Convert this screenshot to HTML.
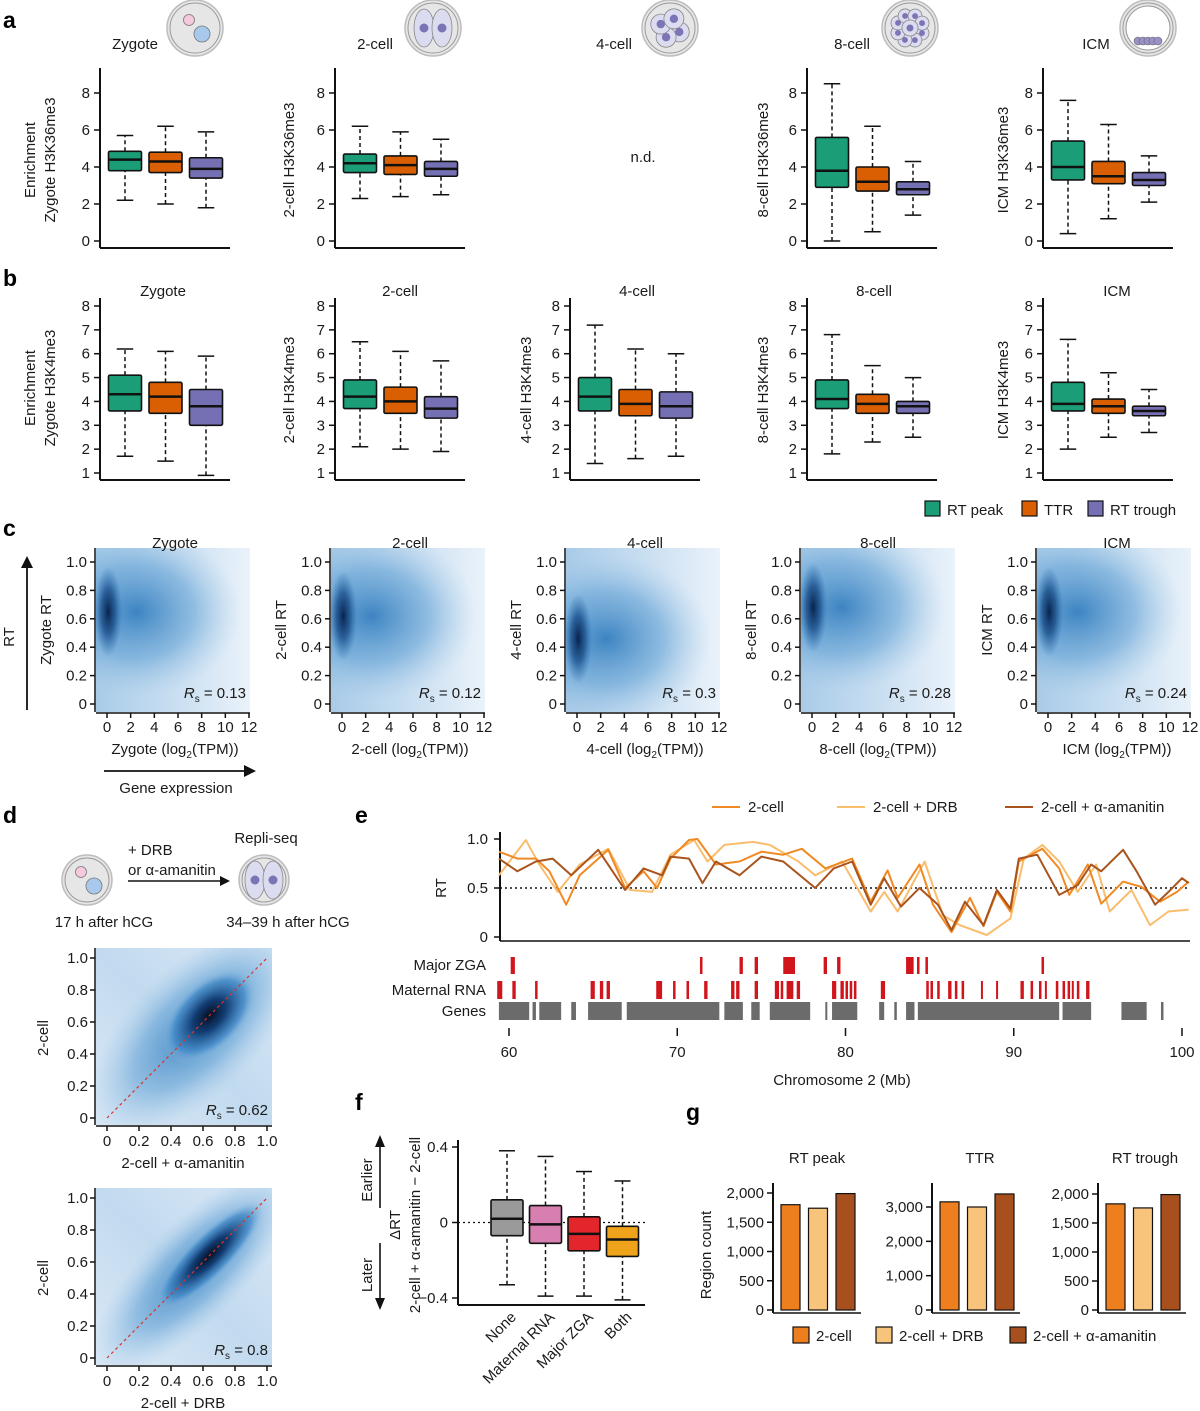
<!DOCTYPE html>
<html><head><meta charset="utf-8"><style>
html,body{margin:0;padding:0;background:#fff;}
svg{display:block;font-family:"Liberation Sans",sans-serif;}
</style></head><body>
<svg id="fig" width="1200" height="1411" viewBox="0 0 1200 1411" xmlns="http://www.w3.org/2000/svg">
<defs>
 <linearGradient id="wash" x1="0" x2="1" y1="0" y2="0"><stop offset="0" stop-color="#a9cbe8"/><stop offset="0.5" stop-color="#c8def1"/><stop offset="1" stop-color="#eaf2fa"/></linearGradient>
 <linearGradient id="washd" x1="0" x2="1" y1="1" y2="0"><stop offset="0" stop-color="#dbe9f6"/><stop offset="0.5" stop-color="#c2daef"/><stop offset="1" stop-color="#dbe9f6"/></linearGradient>
 <radialGradient id="mid"><stop offset="0" stop-color="#2f7bbd" stop-opacity="0.9"/><stop offset="0.55" stop-color="#5b9dd2" stop-opacity="0.55"/><stop offset="1" stop-color="#9cc5e6" stop-opacity="0"/></radialGradient>
 <radialGradient id="core"><stop offset="0" stop-color="#08234d"/><stop offset="0.5" stop-color="#1a4f8a" stop-opacity="0.8"/><stop offset="1" stop-color="#2d6fb0" stop-opacity="0"/></radialGradient>
 <radialGradient id="dcore"><stop offset="0" stop-color="#050f24"/><stop offset="0.35" stop-color="#123d73"/><stop offset="0.75" stop-color="#3d86c6" stop-opacity="0.7"/><stop offset="1" stop-color="#9cc5e6" stop-opacity="0"/></radialGradient>
</defs>
</svg>
<script>
// ---------- data ----------
const boxGroups = ["RT peak","TTR","RT trough"];
const boxColors = ["#1b9e77","#d95f02","#7570b3"];
const stages = ["Zygote","2-cell","4-cell","8-cell","ICM"];
// [lowWhisker, q1, median, q3, highWhisker]
const h3k36Zygote = [[2.2,3.8,4.4,4.85,5.7],[2.0,3.7,4.3,4.8,6.2],[1.8,3.4,3.9,4.5,5.9]];
const h3k36TwoCell = [[2.3,3.7,4.2,4.7,6.2],[2.4,3.6,4.1,4.6,5.9],[2.5,3.5,3.9,4.3,5.5]];
const h3k36EightCell = [[0,2.9,3.8,5.6,8.5],[0.5,2.7,3.2,4.0,6.2],[1.4,2.5,2.8,3.2,4.3]];
const h3k36ICM = [[0.4,3.3,4.0,5.4,7.6],[1.2,3.1,3.5,4.3,6.3],[2.1,3.0,3.3,3.7,4.6]];
const h3k4Zygote = [[1.7,3.6,4.3,5.1,6.2],[1.5,3.5,4.2,4.8,6.1],[0.9,3.0,3.8,4.5,5.9]];
const h3k4TwoCell = [[2.1,3.7,4.2,4.9,6.5],[2.0,3.5,4.0,4.6,6.1],[1.9,3.3,3.7,4.2,5.7]];
const h3k4FourCell = [[1.4,3.6,4.2,5.0,7.2],[1.6,3.4,3.9,4.5,6.2],[1.7,3.3,3.8,4.4,6.0]];
const h3k4EightCell = [[1.8,3.7,4.1,4.9,6.8],[2.3,3.5,3.9,4.3,5.5],[2.5,3.5,3.8,4.0,5.0]];
const h3k4ICM = [[2.0,3.6,3.9,4.8,6.6],[2.5,3.5,3.8,4.1,5.2],[2.7,3.4,3.6,3.8,4.5]];
const ticksA = [0,2,4,6,8];
const ticksB = [1,2,3,4,5,6,7,8];
const rsC = ["0.13","0.12","0.3","0.28","0.24"];
const densityPeakRT = [0.65,0.62,0.46,0.68,0.65];
const ticksCx = [0,2,4,6,8,10,12];
const ticksCy = [0,0.2,0.4,0.6,0.8,1.0];
const rsD = ["0.62","0.8"];
const ticksD = [0,0.2,0.4,0.6,0.8,1.0];
// panel e
const rtSeriesNames = ["2-cell","2-cell + DRB","2-cell + \u03b1-amanitin"];
const rtColors = ["#f08a24","#f9bd6e","#a9541d"];
const mb2cell = [59.4,60.5,61.6,62.4,63.4,64.2,65.9,66.9,68.0,68.8,69.6,70.7,71.2,72.3,73.7,75.0,76.3,77.4,78.8,80.4,81.5,82.5,83.1,84.4,85.2,86.3,87.4,88.2,89.0,89.8,90.3,91.7,92.7,93.3,94.4,95.2,96.5,97.6,98.7,99.7,100.4];
const rt2cell = [.87,.80,.80,.67,.33,.63,.89,.50,.67,.50,.80,.99,1.0,.74,.77,.87,.84,.90,.70,.80,.36,.68,.40,.74,.33,.05,.40,.11,.46,.26,.77,.90,.70,.43,.74,.34,.565,.51,.36,.46,.565];
const mbDRB = [59.4,61.0,61.8,62.9,64.2,65.9,67.2,68.5,69.6,71.0,71.8,72.8,74.5,75.5,77.2,78.2,79.8,81.5,82.3,83.1,84.7,85.8,86.8,88.4,89.8,90.6,91.7,92.7,93.8,94.9,95.7,97.0,98.1,99.2,100.4];
const rtDRB = [.63,.99,.74,.46,.74,.90,.48,.46,.84,.99,.77,.94,.97,.94,.77,.63,.77,.26,.46,.26,.77,.22,.12,.02,.19,.80,.94,.77,.46,.74,.26,.48,.12,.26,.28];
const mbAma = [59.4,60.5,61.6,62.6,63.7,65.3,66.9,68.0,69.1,69.6,70.7,71.5,72.3,73.7,75.0,76.3,78.2,79.3,80.4,81.5,82.3,83.3,84.4,85.5,86.3,87.1,88.2,89.0,89.8,90.3,91.4,92.7,93.8,94.6,95.2,96.5,97.3,98.4,99.2,100.0,100.4];
const rtAma = [.80,.67,.77,.80,.63,.89,.48,.70,.63,.82,.80,.55,.77,.63,.82,.77,.50,.70,.77,.33,.60,.31,.50,.33,.07,.36,.12,.48,.29,.80,.84,.43,.53,.74,.67,.89,.67,.33,.46,.60,.55];
const majorZGA = [[60.1,60.35],[71.35,71.5],[73.7,73.9],[74.6,74.8],[76.3,77.0],[78.7,78.9],[79.5,79.7],[83.6,84.05],[84.25,84.4],[84.75,84.9],[91.65,91.8]];
const maternalRNA = [[59.3,59.6],[60.2,60.4],[61.55,61.7],[64.85,65.1],[65.4,65.6],[65.8,66.0],[68.75,69.1],[69.75,69.9],[70.55,70.7],[71.6,71.8],[73.2,73.4],[73.5,73.7],[74.6,74.8],[75.8,76.05],[76.15,76.3],[76.5,76.9],[77.1,77.3],[79.2,79.45],[79.7,79.9],[80.0,80.15],[80.25,80.4],[80.5,80.65],[82.1,82.35],[84.8,84.95],[85.05,85.2],[85.45,85.6],[86.1,86.3],[86.5,86.65],[86.9,87.05],[88.05,88.15],[88.95,89.05],[90.4,90.6],[91.0,91.15],[91.5,91.65],[91.85,91.95],[92.5,92.65],[92.9,93.05],[93.2,93.35],[93.45,93.55],[93.75,93.9],[94.3,94.5]];
const genes = [[59.4,61.2],[61.4,61.6],[61.8,63.1],[63.7,63.98],[64.7,66.7],[67.0,72.5],[72.8,73.9],[74.4,74.9],[75.5,77.9],[78.8,78.9],[79.2,80.7],[82.0,82.3],[82.9,83.05],[83.6,84.1],[84.3,92.7],[92.9,94.6],[96.4,97.9],[98.75,98.9]];
const ticksEx = [60,70,80,90,100];
const ticksEy = [0,0.5,1.0];
// panel f
const fCats = ["None","Maternal RNA","Major ZGA","Both"];
const fColors = ["#9a9a9a","#d77fb0","#e3262b","#efa31b"];
const fStats = [[-0.33,-0.07,0.02,0.12,0.38],[-0.39,-0.11,-0.01,0.09,0.35],[-0.39,-0.15,-0.06,0.03,0.27],[-0.41,-0.18,-0.09,-0.02,0.22]];
const ticksF = [-0.4,0,0.4];
// panel g
const gPanels = ["RT peak","TTR","RT trough"];
const gColors = ["#ee7f1f","#f8c37a","#a8501d"];
const gPeak = [1800,1740,1990];
const gTTR = [3150,3000,3380];
const gTrough = [1830,1760,1990];
const ticksGpeak = [0,500,1000,1500,2000];
const ticksGttr = [0,1000,2000,3000];

// ---------- helpers ----------
const NS="http://www.w3.org/2000/svg";
const svg=document.getElementById('fig');
function mk(tag,attrs,name,parent){
  const el=document.createElementNS(NS,tag);
  for(const k in attrs) el.setAttribute(k,attrs[k]);
  
  
  (parent||svg).appendChild(el);
  return el;
}
function txt(x,y,s,name,opt){
  opt=opt||{};
  const t=mk('text',{x:x,y:y,'font-size':opt.size||15,'text-anchor':opt.anchor||'middle',fill:opt.fill||'#1a1a1a','font-weight':opt.weight||'normal'},name);
  if(opt.rot!==undefined) t.setAttribute('transform','rotate('+opt.rot+' '+x+' '+y+')');
  t.textContent=s;
  return t;
}
function line(x1,y1,x2,y2,name,opt){
  opt=opt||{};
  const l=mk('line',{x1:x1,y1:y1,x2:x2,y2:y2,stroke:opt.stroke||'#111','stroke-width':opt.w||2},name);
  if(opt.dash) l.setAttribute('stroke-dasharray',opt.dash);
  return l;
}
function lin(d0,d1,r0,r1){return v=>r0+(v-d0)*(r1-r0)/(d1-d0);}
function drawBox(cx,w,ys,s,color,name){
  line(cx,ys(s[0]),cx,ys(s[1]),name+'-whisker-low',{w:1.5,dash:'4,3'});
  line(cx,ys(s[3]),cx,ys(s[4]),name+'-whisker-high',{w:1.5,dash:'4,3'});
  line(cx-w/4,ys(s[0]),cx+w/4,ys(s[0]),name+'-cap-low',{w:1.5});
  line(cx-w/4,ys(s[4]),cx+w/4,ys(s[4]),name+'-cap-high',{w:1.5});
  mk('rect',{x:cx-w/2,y:ys(s[3]),width:w,height:ys(s[1])-ys(s[3]),fill:color,stroke:'#111','stroke-width':1.6,rx:1.5},name+'-box');
  line(cx-w/2,ys(s[2]),cx+w/2,ys(s[2]),name+'-median',{w:2.5});
}
function cell(cx,cy,r,type,name){
  mk('circle',{cx:cx,cy:cy,r:r,fill:'#e6e6e6',stroke:'#bdbdbd','stroke-width':1.5},name+'-zona');
  mk('circle',{cx:cx,cy:cy,r:r-3,fill:'none',stroke:'#9a9a9a','stroke-width':1},name+'-membrane');
  if(type==='zygote'){
    mk('circle',{cx:cx-6,cy:cy-8,r:5.5,fill:'#f6c9df',stroke:'#777','stroke-width':0.8},name+'-pronucleus-f');
    mk('circle',{cx:cx+7,cy:cy+6,r:8,fill:'#a8c9ec',stroke:'#777','stroke-width':0.8},name+'-pronucleus-m');
  } else if(type==='2'){
    mk('ellipse',{cx:cx-9,cy:cy,rx:10,ry:19,fill:'#dcdcf0',stroke:'#888','stroke-width':0.8},name+'-blast1');
    mk('ellipse',{cx:cx+9,cy:cy,rx:10,ry:19,fill:'#dcdcf0',stroke:'#888','stroke-width':0.8},name+'-blast2');
    mk('circle',{cx:cx-9,cy:cy,r:4.5,fill:'#7b74b6'},name+'-nuc1');
    mk('circle',{cx:cx+9,cy:cy,r:4.5,fill:'#7b74b6'},name+'-nuc2');
  } else if(type==='4'||type==='8'){
    const n=type==='4'?4:8, rr=type==='4'?10:7, d=type==='4'?10:13;
    for(let i=0;i<n;i++){
      const a=i*2*Math.PI/n+0.4;
      mk('circle',{cx:cx+d*Math.cos(a),cy:cy+d*Math.sin(a),r:rr,fill:'#dcdcf0',stroke:'#888','stroke-width':0.8},name+'-blast');
      mk('circle',{cx:cx+d*Math.cos(a),cy:cy+d*Math.sin(a),r:rr*0.42,fill:'#7b74b6'},name+'-nuc');
    }
    if(n===8){mk('circle',{cx:cx,cy:cy,r:8,fill:'#dcdcf0',stroke:'#888','stroke-width':0.8},name+'-blast-c');mk('circle',{cx:cx,cy:cy,r:3.5,fill:'#7b74b6'},name+'-nuc-c');}
  } else {
    mk('circle',{cx:cx,cy:cy,r:r-6,fill:'#fff',stroke:'#999','stroke-width':1},name+'-cavity');
    for(let i=0;i<5;i++){mk('circle',{cx:cx-10+i*5,cy:cy+13,r:4,fill:'#9892c8',stroke:'#666','stroke-width':0.6},name+'-icm');}
  }
}
function yAxis(x,ys,ticks,top,bot,name,fmt){
  line(x,top,x,bot,name+'-line');
  ticks.forEach(t=>{
    line(x-6,ys(t),x,ys(t),name+'-tick',{w:1.5});
    txt(x-10,ys(t)+5,fmt?fmt(t):String(t),name+'-label',{anchor:'end'});
  });
}

// ---------- panel letters ----------
[['a',3,28],['b',3,286],['c',3,536],['d',3,823],['e',355,823],['f',355,1110],['g',686,1120]].forEach(p=>{
  txt(p[1],p[2],p[0],'panel-letter-'+p[0],{anchor:'start',size:23,weight:'bold',fill:'#000'});
});

// ---------- panel a ----------
const axA=[100,335,570,807,1043];
const ysA=lin(0,8,241,93);
const dataA=[h3k36Zygote,h3k36TwoCell,null,h3k36EightCell,h3k36ICM];
const titleAx=[135,375,614,852,1096];
const iconAx=[195,433,670,910,1148];
const iconTypes=['zygote','2','4','8','icm'];
stages.forEach((s,i)=>{
  txt(titleAx[i],49,s,'title-a-'+s);
  cell(iconAx[i],28,28,iconTypes[i],'icon-'+s);
  if(!dataA[i]){txt(643,162,'n.d.','not-determined-label');return;}
  const ax=axA[i];
  yAxis(ax,ysA,ticksA,68,248,'y-axis-a-'+s);
  line(ax,248,ax+130,248,'x-axis-a-'+s);
  dataA[i].forEach((st,j)=>drawBox(ax+25+j*40.5,33,ysA,st,boxColors[j],'box-a-'+s+'-'+j));
});
txt(35,160,'Enrichment','y-axis-title-a-enrichment',{rot:-90});
txt(55,160,'Zygote H3K36me3','y-axis-title-a-zygote',{rot:-90});
txt(294,160,'2-cell H3K36me3','y-axis-title-a-2cell',{rot:-90});
txt(768,160,'8-cell H3K36me3','y-axis-title-a-8cell',{rot:-90});
txt(1008,160,'ICM H3K36me3','y-axis-title-a-icm',{rot:-90});

// ---------- panel b ----------
const ysB=lin(1,8,473,306);
const dataB=[h3k4Zygote,h3k4TwoCell,h3k4FourCell,h3k4EightCell,h3k4ICM];
const titleBx=[163,400,637,874,1117];
stages.forEach((s,i)=>{
  const ax=axA[i];
  txt(titleBx[i],296,s,'title-b-'+s);
  yAxis(ax,ysB,ticksB,298,480,'y-axis-b-'+s);
  line(ax,480,ax+130,480,'x-axis-b-'+s);
  dataB[i].forEach((st,j)=>drawBox(ax+25+j*40.5,33,ysB,st,boxColors[j],'box-b-'+s+'-'+j));
});
txt(35,388,'Enrichment','y-axis-title-b-enrichment',{rot:-90});
txt(55,388,'Zygote H3K4me3','y-axis-title-b-zygote',{rot:-90});
txt(294,390,'2-cell  H3K4me3','y-axis-title-b-2cell',{rot:-90});
txt(531,390,'4-cell H3K4me3','y-axis-title-b-4cell',{rot:-90});
txt(768,390,'8-cell  H3K4me3','y-axis-title-b-8cell',{rot:-90});
txt(1008,390,'ICM H3K4me3','y-axis-title-b-icm',{rot:-90});
// legend
const legX=[925,1022,1088];
boxGroups.forEach((g,j)=>{
  mk('rect',{x:legX[j],y:501,width:15,height:15,fill:boxColors[j],stroke:'#111','stroke-width':1.2},'legend-swatch-'+g);
  txt(legX[j]+22,515,g,'legend-label-'+g,{anchor:'start'});
});

// ---------- panel c ----------
const rectCx=[96,331,566,801,1037];
const yLabC=['Zygote RT','2-cell RT','4-cell RT','8-cell RT','ICM RT'];
const titleCx=[175,410,645,878,1117];
stages.forEach((s,i)=>{
  const x0=rectCx[i], xs=lin(0,12,11,153), ys=lin(0,1,156,14);
  const plot=mk('svg',{x:x0,y:548,width:154,height:164,overflow:'hidden'},'density-plot-'+s);
  mk('rect',{x:0,y:0,width:154,height:164,fill:'url(#wash)'},'density-bg-'+s,plot);
  mk('ellipse',{cx:xs(2.5),cy:ys(densityPeakRT[i]),rx:105,ry:85,fill:'url(#mid)'},'density-mid-'+s,plot);
  mk('ellipse',{cx:xs(0.1),cy:ys(densityPeakRT[i]),rx:14,ry:45,fill:'url(#core)'},'density-core-'+s,plot);
  txt(titleCx[i],548,s,'title-c-'+s);
  line(x0-1,548,x0-1,712,'y-axis-c-'+s,{w:1.5});
  ticksCy.forEach(t=>{const yy=548+ys(t);line(x0-6,yy,x0-1,yy,'y-tick-c',{w:1.5});txt(x0-9,yy+5,t===0?'0':t.toFixed(1),'y-tick-label-c',{anchor:'end'});});
  line(x0,713,x0+154,713,'x-axis-c-'+s,{w:1.5});
  ticksCx.forEach(t=>{const xx=x0+xs(t);line(xx,713,xx,718,'x-tick-c',{w:1.5});txt(xx,732,String(t),'x-tick-label-c');});
  const r=txt(x0+150,698,'','rs-label-c-'+s,{anchor:'end'});
  r.innerHTML='<tspan font-style="italic">R</tspan><tspan font-size="10" dy="4">s</tspan><tspan dy="-4"> = '+rsC[i]+'</tspan>';
  txt(x0-45,630,yLabC[i],'y-axis-title-c-'+s,{rot:-90});
  const xl=txt(titleCx[i],754,'','x-axis-title-c-'+s);
  xl.innerHTML=s+' (log<tspan font-size="10" dy="4">2</tspan><tspan dy="-4">(TPM))</tspan>';
});
txt(14,637,'RT','rt-axis-label',{rot:-90});
line(27,710,27,566,'rt-arrow-shaft',{w:1.8});
mk('path',{d:'M21,568 L27,556 L33,568 Z',fill:'#111'},'rt-arrow-head');
line(104,771,246,771,'expression-arrow-shaft',{w:1.8});
mk('path',{d:'M244,765 L256,771 L244,777 Z',fill:'#111'},'expression-arrow-head');
txt(176,793,'Gene expression','gene-expression-label');

// ---------- panel d ----------
cell(87,880,25,'zygote','icon-d-zygote');
cell(264,880,25,'2','icon-d-2cell');
txt(128,855,'+ DRB','drb-label',{anchor:'start'});
txt(128,875,'or \u03b1-amanitin','amanitin-label',{anchor:'start'});
line(128,881,222,881,'treatment-arrow',{w:1.6});
mk('path',{d:'M220,876 L230,881 L220,886 Z',fill:'#111'},'treatment-arrow-head');
txt(266,843,'Repli-seq','repli-seq-label');
txt(104,927,'17 h after hCG','time-label-zygote');
txt(288,927,'34\u201339 h after hCG','time-label-2cell');
const dTops=[948,1188];
const dXl=['2-cell + \u03b1-amanitin','2-cell + DRB'];
dTops.forEach((top,i)=>{
  const xs=lin(0,1,11,171), ys=lin(0,1,170,10);
  const plot=mk('svg',{x:96,y:top,width:176,height:177,overflow:'hidden'},'density-plot-d'+i);
  mk('rect',{x:0,y:0,width:176,height:177,fill:'url(#washd)'},'density-bg-d'+i,plot);
  mk('ellipse',{cx:xs(0.55),cy:ys(0.55),rx:140,ry:i?50:65,fill:'url(#mid)',transform:'rotate(-45 '+xs(0.55)+' '+ys(0.55)+')'},'density-mid-d'+i,plot);
  mk('ellipse',{cx:xs(0.64),cy:ys(0.64),rx:i?75:58,ry:i?22:34,fill:'url(#dcore)',transform:'rotate(-45 '+xs(0.64)+' '+ys(0.64)+')'},'density-core-d'+i,plot);
  line(xs(0),ys(0),xs(1),ys(1),'identity-line-d'+i,{stroke:'#d9342b',w:1.2,dash:'3,3'}).remove();
  plot.appendChild(line(xs(0),ys(0),xs(1),ys(1),'identity-line-d'+i,{stroke:'#d9342b',w:1.2,dash:'3,3'}));
  line(95,top,95,top+177,'y-axis-d'+i,{w:1.5});
  line(96,top+178,272,top+178,'x-axis-d'+i,{w:1.5});
  ticksD.forEach(t=>{
    const yy=top+ys(t), xx=96+xs(t);
    line(90,yy,95,yy,'y-tick-d',{w:1.5});
    txt(88,yy+5,t===0?'0':t.toFixed(1),'y-tick-label-d',{anchor:'end'});
    line(xx,top+178,xx,top+183,'x-tick-d',{w:1.5});
    txt(xx,top+198,t===0?'0':t.toFixed(1),'x-tick-label-d');
  });
  const r=txt(268,top+167,'','rs-label-d'+i,{anchor:'end'});
  r.innerHTML='<tspan font-style="italic">R</tspan><tspan font-size="10" dy="4">s</tspan><tspan dy="-4"> = '+rsD[i]+'</tspan>';
  txt(48,top+90,'2-cell','y-axis-title-d'+i,{rot:-90});
  txt(183,top+220,dXl[i],'x-axis-title-d'+i);
});

// ---------- panel e ----------
const xsE=lin(60,100,509,1182), ysE=lin(0,1,937,839);
const eSeries=[[mb2cell,rt2cell],[mbDRB,rtDRB],[mbAma,rtAma]];
const legEx=[712,837,1005];
rtSeriesNames.forEach((n,i)=>{
  line(legEx[i],807,legEx[i]+28,807,'legend-line-e-'+i,{stroke:rtColors[i],w:2});
  txt(legEx[i]+36,812,n,'legend-label-e-'+i,{anchor:'start'});
});
line(500,832,500,941,'y-axis-e');
line(500,941,1190,941,'x-axis-e',{w:1.5});
ticksEy.forEach(t=>{line(494,ysE(t),500,ysE(t),'y-tick-e',{w:1.5});txt(488,ysE(t)+5,t===0?'0':t.toFixed(1),'y-tick-label-e',{anchor:'end'});});
txt(446,888,'RT','y-axis-title-e',{rot:-90});
line(500,ysE(0.5),1190,ysE(0.5),'midline-e',{w:1.5,dash:'2,3'});
[1,0,2].forEach(i=>{
  const d=eSeries[i][0].map((m,k)=>(k?'L':'M')+xsE(m).toFixed(1)+','+ysE(eSeries[i][1][k]).toFixed(1)).join(' ');
  mk('path',{d:d,fill:'none',stroke:rtColors[i],'stroke-width':2,'stroke-linejoin':'round'},'rt-line-'+rtSeriesNames[i]);
});
txt(486,970,'Major ZGA','track-label-major-zga',{anchor:'end'});
txt(486,995,'Maternal RNA','track-label-maternal-rna',{anchor:'end'});
txt(486,1016,'Genes','track-label-genes',{anchor:'end'});
majorZGA.forEach(s=>mk('rect',{x:xsE(s[0]),y:957,width:Math.max(2,xsE(s[1])-xsE(s[0])),height:17,fill:'#d0151d'},'major-zga-region'));
maternalRNA.forEach(s=>mk('rect',{x:xsE(s[0]),y:981,width:Math.max(2,xsE(s[1])-xsE(s[0])),height:18,fill:'#d0151d'},'maternal-rna-region'));
genes.forEach(s=>mk('rect',{x:xsE(s[0]),y:1002,width:Math.max(2,xsE(s[1])-xsE(s[0])),height:18,fill:'#6b6b6b'},'gene-region'));
ticksEx.forEach(t=>{line(xsE(t),1028,xsE(t),1036,'x-tick-e',{w:1.5});txt(xsE(t),1057,String(t),'x-tick-label-e');});
txt(842,1085,'Chromosome 2 (Mb)','x-axis-title-e');

// ---------- panel f ----------
const ysF=lin(-0.4,0.4,1298,1147);
line(458,1140,458,1305,'y-axis-f');
line(458,1305,645,1305,'x-axis-f');
ticksF.forEach(t=>{line(452,ysF(t),458,ysF(t),'y-tick-f',{w:1.5});txt(448,ysF(t)+5,t===0?'0':(t<0?'\u2212':'')+Math.abs(t).toFixed(1),'y-tick-label-f',{anchor:'end'});});
line(458,ysF(0),645,ysF(0),'zero-line-f',{w:1.3,dash:'2,3'});
fCats.forEach((c,i)=>{
  const cx=507+i*38.5;
  drawBox(cx,32,ysF,fStats[i],fColors[i],'box-f-'+c);
  txt(cx+10,1318,c,'x-tick-label-f-'+c,{anchor:'end',rot:-45});
});
txt(420,1225,'2-cell + \u03b1-amanitin \u2212 2-cell','y-axis-title-f',{rot:-90});
txt(400,1225,'\u0394RT','y-axis-title-f-delta',{rot:-90});
txt(372,1180,'Earlier','earlier-label',{rot:-90});
txt(372,1275,'Later','later-label',{rot:-90});
line(380,1208,380,1145,'earlier-arrow',{w:1.6});
mk('path',{d:'M375,1147 L380,1135 L385,1147 Z',fill:'#111'},'earlier-arrow-head');
line(380,1243,380,1300,'later-arrow',{w:1.6});
mk('path',{d:'M375,1298 L380,1310 L385,1298 Z',fill:'#111'},'later-arrow-head');

// ---------- panel g ----------
const gData=[gPeak,gTTR,gTrough];
const gAx=[773,932,1098];
const gTitleX=[817,980,1145];
const gTicks=[ticksGpeak,ticksGttr,ticksGpeak];
const gMax=[2000,3000,2000];
const gTopY=[1193,1207,1194];
gPanels.forEach((p,i)=>{
  const ax=gAx[i], ys=lin(0,gMax[i],1310,gTopY[i]);
  txt(gTitleX[i],1163,p,'title-g-'+p);
  line(ax,1183,ax,1313,'y-axis-g-'+p);
  line(ax,1313,ax+88,1313,'x-axis-g-'+p,{w:1.5});
  gTicks[i].forEach(t=>{line(ax-6,ys(t),ax,ys(t),'y-tick-g',{w:1.5});txt(ax-9,ys(t)+5,t.toLocaleString('en-US'),'y-tick-label-g',{anchor:'end'});});
  gData[i].forEach((v,j)=>mk('rect',{x:ax+8+j*27.5,y:ys(v),width:19,height:1310-ys(v),fill:gColors[j],stroke:'#111','stroke-width':1.2},'bar-g-'+p+'-'+j));
});
txt(711,1255,'Region count','y-axis-title-g',{rot:-90});
const gLegX=[793,876,1010];
rtSeriesNames.forEach((n,j)=>{
  mk('rect',{x:gLegX[j],y:1327,width:16,height:16,fill:gColors[j],stroke:'#111','stroke-width':1.2},'legend-swatch-g-'+j);
  txt(gLegX[j]+23,1341,n,'legend-label-g-'+j,{anchor:'start'});
});
</script>
</body></html>
